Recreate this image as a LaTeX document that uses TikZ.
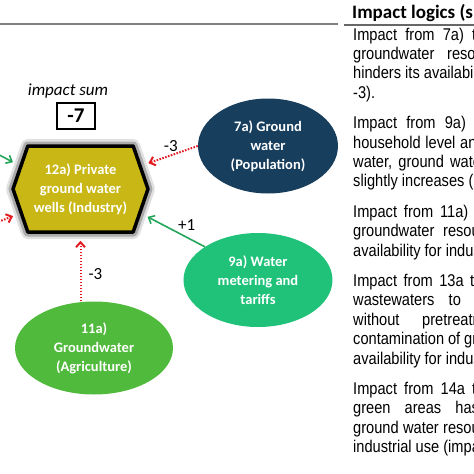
\documentclass[tikz,border=0pt]{standalone}
\usepackage{fontspec}
\setmainfont{Liberation Sans}
\newfontfamily\carl{Carlito}
\newfontfamily\narrow[FakeStretch=0.86]{Liberation Sans}
\usetikzlibrary{positioning,shapes.geometric,shapes.symbols,arrows.meta}

\definecolor{hexfill}{RGB}{200,183,20}
\definecolor{popblue}{RGB}{24,62,94}
\definecolor{metergreen}{RGB}{32,194,122}
\definecolor{agrigreen}{RGB}{80,186,60}
\definecolor{negred}{RGB}{225,30,35}
\definecolor{posgreen}{RGB}{35,165,90}
\definecolor{rulegray}{RGB}{128,128,128}

\tikzset{
  factor/.style={ellipse, inner sep=0pt, text=white, align=center,
    font=\carl\bfseries\fontsize{14.5}{19}\selectfont},
  negarrow/.style={draw=negred, line width=2pt, dash pattern=on 1.6pt off 1.4pt,
    -{Straight Barb[length=5pt,width=9pt]}, shorten >=7pt},
  posarrow/.style={draw=posgreen, line width=1.6pt,
    -{Straight Barb[length=5pt,width=9pt]}, shorten >=7pt},
  weight/.style={font=\carl\fontsize{17}{17}\selectfont, inner sep=1pt},
  logic/.style={anchor=west, inner sep=0pt, text height=13pt, text depth=3pt,
    font=\narrow\fontsize{17}{19}\selectfont},
}

\begin{document}
\begin{tikzpicture}[x=1pt,y=-1pt]

\useasboundingbox (0,0) rectangle (474,474);
\clip (0,0) rectangle (474,474);

% rules
\draw[rulegray, line width=1.3pt] (0,24) -- (338,24);
\draw[rulegray!80!black, line width=1.3pt] (344,25) -- (474,25);

% central factor
\node[signal, signal to=east and west, signal pointer angle=142,
  minimum width=135pt, minimum height=86pt, inner sep=0pt,
  fill=hexfill, draw=black, line width=3.5pt, line join=round,
  preaction={draw=black!30, line width=14pt, opacity=0.4},
  preaction={draw=black!50, line width=9pt, opacity=0.55},
  text=white, align=center, font=\carl\bfseries\fontsize{14.5}{19}\selectfont]
  (H12) at (80.5,189) {12a) Private\\ground water\\wells (Industry)};

\node[draw, line width=1.2pt, minimum width=38pt, minimum height=26pt,
  inner sep=0pt, font=\carl\bfseries\fontsize{21}{21}\selectfont]
  (SUM) at (76,116) {-7};
\node[above=4pt of SUM, xshift=-8pt, inner sep=0pt,
  font=\carl\itshape\fontsize{17}{17}\selectfont] (SUMLBL) {impact sum};

% influencing factors
\node[factor, fill=popblue, minimum width=140pt, minimum height=95pt]
  (E7) at (268,146) {7a) Ground\\water\\(Population)};
\node[factor, fill=metergreen, minimum width=149pt, minimum height=94pt]
  (E9) at (258,280) {9a) Water\\metering and\\tariffs};
\node[factor, fill=agrigreen, minimum width=158pt, minimum height=93pt]
  (E11) at (94,348) {11a)\\Groundwater\\(Agriculture)};

\coordinate (ING) at (-10,150);
\coordinate (INR) at (-10,225);

% impacts
\draw[negarrow] (E7.west) -- node[weight, above=2pt, pos=0.48] {-3} (H12.21);
\draw[posarrow] (E9.148) -- node[weight, above right=0pt, pos=0.45] {+1} (H12.-22);
\draw[negarrow] (H12.south |- E11.north) -- node[weight, right=6pt, pos=0.4] {-3} (H12.south);
\draw[posarrow] (ING) -- (H12.159);
\draw[negarrow] (INR) -- (H12.202);

% impact logics column
\node[anchor=west, inner sep=0pt, font=\carl\bfseries\fontsize{19}{19}\selectfont]
  (HDR) at (352,13) {Impact logics (summary)};

\node[logic] (T1) at (353,35) {\makebox[119pt][l]{Impact\hfill from\hfill 7a)\hfill}to};
\node[logic] (T2) at (353,54.4) {\makebox[94pt][l]{groundwater\hfill}resources};
\node[logic] (T3) at (353,73.8) {hinders its availability for};
\node[logic] (T4) at (353,93.2) {-3).};

\node[logic] (T5) at (353,123.6) {\makebox[122pt][l]{Impact\hfill from\hfill 9a)\hfill}to};
\node[logic] (T6) at (353,143) {\makebox[107pt][l]{household\hfill level\hfill}and};
\node[logic] (T7) at (353,162.4) {\makebox[97pt][l]{water,\hfill ground\hfill}water};
\node[logic] (T8) at (353,181.8) {slightly increases (impact +1).};

\node[logic] (T9) at (353,212.2) {\makebox[122pt][l]{Impact\hfill from\hfill 11a)\hfill}to};
\node[logic] (T10) at (353,231.6) {\makebox[90pt][l]{groundwater\hfill}resources};
\node[logic] (T11) at (353,251) {availability for industry (impact -3).};

\node[logic] (T12) at (353,281.4) {\makebox[117pt][l]{Impact\hfill from\hfill 13a\hfill}to};
\node[logic] (T13) at (353,300.8) {\makebox[122pt][l]{wastewaters\hfill to\hfill}soil};
\node[logic] (T14) at (353,320.2) {\makebox[69pt][l]{without\hfill}pretreatment};
\node[logic] (T15) at (353,339.6) {\makebox[111pt][l]{contamination\hfill of\hfill}groundwater};
\node[logic] (T16) at (353,359) {availability for industry};

\node[logic] (T17) at (353,389.4) {\makebox[119pt][l]{Impact\hfill from\hfill 14a\hfill}to};
\node[logic] (T18) at (353,408.8) {\makebox[140pt][l]{green\hfill areas\hfill has\hfill}a};
\node[logic] (T19) at (353,428.2) {\makebox[90pt][l]{ground\hfill water\hfill}resources};
\node[logic] (T20) at (353,447.6) {industrial use (impact +1).};

\end{tikzpicture}
\end{document}
